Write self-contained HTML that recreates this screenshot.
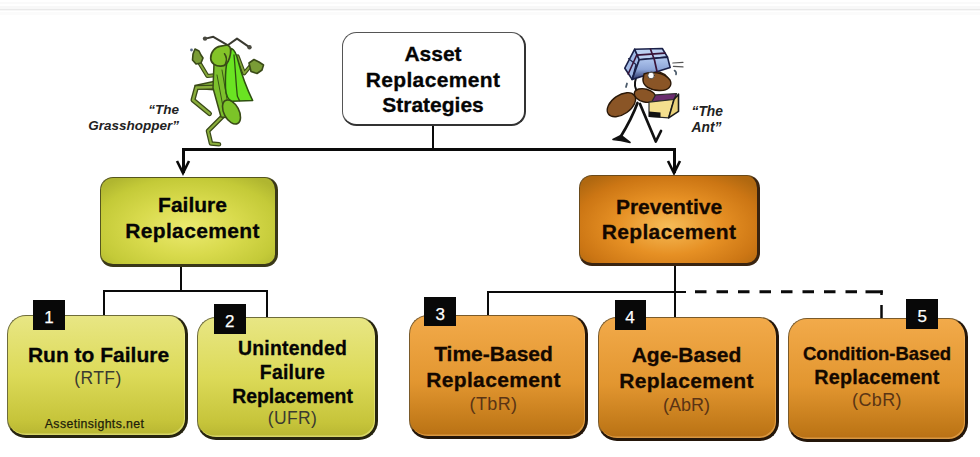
<!DOCTYPE html>
<html><head><meta charset="utf-8">
<style>
html,body{margin:0;padding:0;background:#fff;}
body{width:980px;height:457px;position:relative;overflow:hidden;font-family:"Liberation Sans",sans-serif;}
.abs{position:absolute;}
.box{position:absolute;box-sizing:border-box;}
.t{position:absolute;text-align:center;white-space:nowrap;font-weight:bold;color:#050505;-webkit-text-stroke:0.3px currentColor;}
.r{-webkit-text-stroke:0;}
.r{font-weight:normal;}
.badge{position:absolute;background:#080808;color:#fff;font-size:17px;-webkit-text-stroke:0.25px #fff;text-align:center;line-height:35px;}
.ln{position:absolute;background:#0a0a0a;}
</style></head>
<body>
<!-- top band -->
<div class="abs" style="left:0;top:2px;width:980px;height:2px;background:#fafafa"></div>
<div class="abs" style="left:0;top:6px;width:980px;height:3px;background:#f8f8f8"></div>
<div class="abs" style="left:0;top:9px;width:980px;height:1px;background:#e9e9e9"></div>
<div class="abs" style="left:0;top:10px;width:980px;height:1px;background:#f7f7f7"></div><div class="abs" style="left:0;top:12px;width:980px;height:3px;background:#fbfbfb"></div>

<!-- connectors -->
<div class="ln" style="left:432.2px;top:125px;width:2.2px;height:24px"></div>
<div class="ln" style="left:182px;top:148px;width:494px;height:2.5px"></div>
<div class="ln" style="left:182px;top:148px;width:2.5px;height:25px"></div>
<div class="ln" style="left:673px;top:148px;width:2.5px;height:25px"></div>
<svg class="abs" style="left:0;top:0" width="980" height="457">
  <polyline points="177,161 183,173 189,161" fill="none" stroke="#0a0a0a" stroke-width="2.6"/>
  <polyline points="668,161 674,173 680,161" fill="none" stroke="#0a0a0a" stroke-width="2.6"/>
</svg>
<div class="ln" style="left:180px;top:264px;width:2px;height:28px"></div>
<div class="ln" style="left:103px;top:290px;width:165px;height:2px"></div>
<div class="ln" style="left:102.5px;top:290px;width:2px;height:26px"></div>
<div class="ln" style="left:266px;top:290px;width:2px;height:28px"></div>

<div class="ln" style="left:674px;top:265px;width:2px;height:53px"></div>
<div class="ln" style="left:487px;top:291px;width:199px;height:2px"></div>
<div class="ln" style="left:487px;top:291px;width:2px;height:26px"></div>
<svg class="abs" style="left:0;top:0" width="980" height="457">
  <line x1="695" y1="291.8" x2="865" y2="291.8" stroke="#0a0a0a" stroke-width="3" stroke-dasharray="11.5 10"/>
  <line x1="865.5" y1="291.8" x2="882.8" y2="291.8" stroke="#0a0a0a" stroke-width="3"/>
  <line x1="881.5" y1="290.5" x2="881.5" y2="295" stroke="#0a0a0a" stroke-width="2.5"/>
  <line x1="881.5" y1="305" x2="881.5" y2="318" stroke="#0a0a0a" stroke-width="2.5"/>
</svg>

<!-- top box -->
<div class="box" style="left:342px;top:32px;width:184px;height:94px;border:1.7px solid #555;border-right:2.6px solid #333;border-bottom:2.6px solid #333;border-radius:14.5px;background:#fff"></div>
<div class="t" style="left:283px;width:300px;top:41px;font-size:21px;line-height:25.5px">Asset<br><span style="letter-spacing:.35px">Replacement</span><br>Strategies</div>

<!-- failure -->
<div class="box" style="left:100px;top:176.5px;width:178px;height:90px;border:1.5px solid #55551e;border-right:3px solid #3a3818;border-bottom:3px solid #3a3818;border-radius:13px;background:radial-gradient(ellipse 66% 72% at 50% 58%,#ecea70 0%,#d8da4c 45%,#c4ca38 80%,#b0b630 100%)"></div>
<div class="t" style="left:42.5px;width:300px;top:191.5px;font-size:21px;line-height:26px">Failure<br><span style="letter-spacing:.35px">Replacement</span></div>

<!-- preventive -->
<div class="box" style="left:578.5px;top:175px;width:181px;height:91px;border:1.5px solid #6a4a1a;border-right:3px solid #3a2410;border-bottom:3px solid #3a2410;border-radius:13px;background:radial-gradient(ellipse 66% 72% at 50% 58%,#f6bc58 0%,#e69024 45%,#cc7614 80%,#b06810 100%)"></div>
<div class="t" style="left:519px;width:300px;top:193.9px;font-size:21px;line-height:25.5px;color:#140800">Preventive<br><span style="letter-spacing:.35px">Replacement</span></div>

<!-- bottom yellow boxes -->
<div class="box" style="left:7px;top:314.5px;width:181px;height:123px;border:1.5px solid #6e6c3a;border-right:3.5px solid #262410;border-bottom:3.5px solid #262410;border-radius:19px;box-shadow:inset -1px -1.5px 0 rgba(240,240,150,.55);background:linear-gradient(#e8e684,#dcda58 50%,#c6c43a 88%,#b8b632)"></div>
<div class="badge" style="left:33px;top:299.5px;width:32px;height:30px">1</div>
<div class="t" style="left:-51.5px;width:300px;top:340.5px;font-size:21px;line-height:28px">Run to Failure</div>
<div class="t r" style="left:-52px;width:300px;top:368px;font-size:17.5px;line-height:20px;letter-spacing:.4px;color:#3a3a30">(RTF)</div>
<div class="t r" style="left:-55.5px;width:300px;top:415px;font-size:12.3px;line-height:18px;color:#1e1e0a;letter-spacing:.38px;-webkit-text-stroke:.25px #1e1e0a">Assetinsights.net</div>

<div class="box" style="left:196.5px;top:316.5px;width:181.5px;height:123.5px;border:1.5px solid #6e6c3a;border-right:3.5px solid #262410;border-bottom:3.5px solid #262410;border-radius:19px;box-shadow:inset -1px -1.5px 0 rgba(240,240,150,.55);background:linear-gradient(#e8e684,#dcda58 50%,#c6c43a 88%,#b8b632)"></div>
<div class="badge" style="left:213.7px;top:303.7px;width:32px;height:30px">2</div>
<div class="t" style="left:142.5px;width:300px;top:336px;font-size:19.4px;line-height:24.5px;letter-spacing:.25px">Unintended</div>
<div class="t" style="left:142.5px;width:300px;top:359.5px;font-size:19.4px;line-height:24.5px;letter-spacing:.25px">Failure</div>
<div class="t" style="left:142.5px;width:300px;top:384px;font-size:19.4px;line-height:24.5px">Replacement</div>
<div class="t r" style="left:142.5px;width:300px;top:407.8px;font-size:17.5px;line-height:20px;letter-spacing:.4px;color:#3a3a30">(UFR)</div>

<!-- bottom orange boxes -->
<div class="box" style="left:408.8px;top:314.5px;width:179.5px;height:124.5px;border:1.5px solid #7a5a2a;border-right:3.5px solid #24160a;border-bottom:3.5px solid #24160a;border-radius:19px;box-shadow:inset -1px -1.5px 0 rgba(250,190,110,.5);background:linear-gradient(#f2aa4a,#e29630 55%,#c07818 92%,#b87016)"></div>
<div class="badge" style="left:424.3px;top:296.7px;width:32px;height:29.8px">3</div>
<div class="t" style="left:343.5px;width:300px;top:341px;font-size:21px;line-height:26px;color:#140800">Time-Based<br><span style="letter-spacing:.35px">Replacement</span></div>
<div class="t r" style="left:343.5px;width:300px;top:394px;font-size:18px;line-height:20px;letter-spacing:.4px;color:#5a3414">(TbR)</div>

<div class="box" style="left:598px;top:317px;width:180.5px;height:124px;border:1.5px solid #7a5a2a;border-right:3.5px solid #24160a;border-bottom:3.5px solid #24160a;border-radius:19px;box-shadow:inset -1px -1.5px 0 rgba(250,190,110,.5);background:linear-gradient(#f2aa4a,#e29630 55%,#c07818 92%,#b87016)"></div>
<div class="badge" style="left:614.5px;top:299.5px;width:31px;height:30px">4</div>
<div class="t" style="left:536.5px;width:300px;top:342px;font-size:21px;line-height:26px;color:#140800">Age-Based<br><span style="letter-spacing:.35px">Replacement</span></div>
<div class="t r" style="left:536.5px;width:300px;top:395px;font-size:18px;line-height:20px;color:#5a3414">(AbR)</div>

<div class="box" style="left:787.5px;top:318px;width:180.5px;height:124px;border:1.5px solid #7a5a2a;border-right:3.5px solid #24160a;border-bottom:3.5px solid #24160a;border-radius:19px;box-shadow:inset -1px -1.5px 0 rgba(250,190,110,.5);background:linear-gradient(#f2aa4a,#e29630 55%,#c07818 92%,#b87016)"></div>
<div class="badge" style="left:906.3px;top:299px;width:32px;height:30.3px">5</div>
<div class="t" style="left:727px;width:300px;top:342px;font-size:18.5px;line-height:23.5px;color:#140800">Condition-Based</div>
<div class="t" style="left:727px;width:300px;top:365.5px;font-size:19.8px;line-height:23.5px;color:#140800;letter-spacing:.2px">Replacement</div>
<div class="t r" style="left:727px;width:300px;top:390px;font-size:18px;line-height:20px;letter-spacing:.4px;color:#5a3414">(CbR)</div>


<!-- grasshopper -->
<svg class="abs" style="left:0;top:0" width="980" height="457">
<g stroke-linecap="round" stroke-linejoin="round">
  <!-- antennae -->
  <polyline points="227.1,44.8 213.3,36.8 205.5,38.6" fill="none" stroke="#3a3a30" stroke-width="2"/>
  <circle cx="205" cy="38.6" r="2.2" fill="#4a4a40"/>
  <polyline points="228.4,44.8 237,38.6 249.3,47.1" fill="none" stroke="#3a3a30" stroke-width="2"/>
  <circle cx="249.5" cy="47.3" r="2.2" fill="#4a4a40"/>
  <!-- left arm -->
  <polyline points="220.5,74.7 207.4,76 199.5,62.9" fill="none" stroke="#3a4a18" stroke-width="4.2"/>
  <polyline points="220.5,74.7 207.4,76 199.5,62.9" fill="none" stroke="#86a83a" stroke-width="1.9"/>
  <path d="M193,54 L195,49 L199,51 L201,55 L203,58 L201,63 L196,64 L192.5,60 Z" fill="#7a9c36" stroke="#3a4a18" stroke-width="1.6"/>
  <circle cx="191.5" cy="50" r="1.4" fill="#5a6a8a"/>
  <!-- right arm -->
  <polyline points="237.6,56.3 244.2,73.4 250.8,65.5" fill="none" stroke="#3a4a18" stroke-width="4"/>
  <polyline points="237.6,56.3 244.2,73.4 250.8,65.5" fill="none" stroke="#86a83a" stroke-width="1.8"/>
  <path d="M249,63 L254,59.5 L259,62 L263.5,65 L262,70 L257,73.5 L251,71.5 Z" fill="#7a9c36" stroke="#3a4a18" stroke-width="1.6"/>
  <!-- left leg -->
  <path d="M216,81 L218,90 L196,88.5 L195,85.5 Z" fill="#86b83a" stroke="#3a4a18" stroke-width="1.5"/>
  <polyline points="217,87 196.4,87.5 193,100 209.5,113.7" fill="none" stroke="#3a4a18" stroke-width="5"/>
  <polyline points="217,87 196.4,87.5 193,100 209.5,113.7" fill="none" stroke="#8aae3c" stroke-width="2.4"/>
  <!-- right shin -->
  <polyline points="223,116 208,131 211,143.5 219,144.3" fill="none" stroke="#3a4a18" stroke-width="4.6"/>
  <polyline points="223,116 208,131 211,143.5 219,144.3" fill="none" stroke="#8aae3c" stroke-width="2.1"/>
  <!-- body -->
  <path d="M214,64 L229,58 L234,92 L231,118 L221,117 L213,88 Z" fill="#7cc02c" stroke="#3a4a18" stroke-width="1.5"/>
  <path d="M217,75 L224,112 M222,70 L228,105" fill="none" stroke="#3a5a14" stroke-width="1"/>
  <!-- right thigh -->
  <ellipse cx="231.5" cy="112" rx="7.5" ry="13" transform="rotate(-28 231.5 112)" fill="#7cc428" stroke="#3a4a18" stroke-width="1.6"/>
  <!-- wing -->
  <path d="M231.5,48.5 C227,56 225,72 225.5,88 C226,96 228,100 232,101.3 L252.7,100.6 C247,89 241,72 238.4,62 C236.5,54 234.5,49.5 231.5,48.5 Z" fill="#6ae422" stroke="#2e5010" stroke-width="1.5"/>
  <path d="M234,55 C235.5,70 236,85 237.4,96.3 L239.5,100.6" fill="none" stroke="#2e5010" stroke-width="1.3"/>
  <!-- head -->
  <path d="M228.4,45.5 C231.5,47.5 231,53 229.5,58 C228,63 226,66 221,66.2 C216,66.5 211,63.5 210.7,58.5 C210.5,52 215,47 220.5,46.2 C223.5,45.5 226.5,44.7 228.4,45.5 Z" fill="#84c428" stroke="#3a4a18" stroke-width="1.7"/>
  <path d="M224.5,53.7 C226.5,56.5 227,60 225.5,63.5" fill="none" stroke="#3a4a18" stroke-width="1.5"/>
</g>
</svg>
<!-- ant -->
<svg class="abs" style="left:0;top:0" width="980" height="457">
<g stroke-linecap="round" stroke-linejoin="round">
  <!-- legs -->
  <path d="M637.5,103 C632,118 626,128 620.5,137" fill="none" stroke="#111" stroke-width="2.7"/>
  <path d="M613,139.5 L621,135.5 L630,142.5 L621,140.5 Z" fill="#111" stroke="#111" stroke-width="1.6"/>
  <path d="M640,104 C646,118 651,130 655.8,141.5 L661,131" fill="none" stroke="#111" stroke-width="2.7"/>
  <!-- abdomen -->
  <ellipse cx="621.4" cy="104.7" rx="16" ry="9.5" transform="rotate(-35 621.4 104.7)" fill="#8a5526" stroke="#2a1808" stroke-width="1.4"/>
  <!-- neck -->
  <path d="M636,78 C634,84 635,89 638,92" fill="none" stroke="#111" stroke-width="2"/>
  <!-- thorax -->
  <ellipse cx="645" cy="95.5" rx="11" ry="6.5" transform="rotate(15 645 95.5)" fill="#8a5526" stroke="#2a1808" stroke-width="1.4"/>
  <!-- carried box -->
  <path d="M651.6,102.1 L655.6,94.9 L676.6,93.5 L674,99.5 Z" fill="#6a2c6e" stroke="#2a2a2a" stroke-width="1.2"/>
  <path d="M649,102.1 L674,99.5 L668.7,117.8 L649,116.5 Z" fill="#f4df8e" stroke="#2a2a2a" stroke-width="1.2"/>
  <path d="M674,99.5 L678.5,94.2 L678.5,111.3 L668.7,117.8 Z" fill="#ead27a" stroke="#1a1a1a" stroke-width="1.6"/>
  <path d="M649,111.5 L660.5,112.5 L660.5,117.5 L649,117 Z" fill="#111"/>
  <!-- head -->
  <ellipse cx="656.4" cy="80.7" rx="13.5" ry="9.2" transform="rotate(18 656.4 80.7)" fill="#8a5526" stroke="#2a1808" stroke-width="1.4"/>
  <circle cx="651.1" cy="74.8" r="3.4" fill="#fff" stroke="#333" stroke-width="0.8"/>
  <!-- head box -->
  <defs><linearGradient id="fg" x1="0" y1="0" x2="0" y2="1"><stop offset="0" stop-color="#b4caf0"/><stop offset="0.55" stop-color="#8ea6d8"/><stop offset="1" stop-color="#2a3468"/></linearGradient></defs>
  <path d="M634.7,49.2 L639.3,59.7 L632.1,79.4 L624.8,68.2 Z" fill="#a2bae6" stroke="#1a2048" stroke-width="1.6"/>
  <path d="M634.7,49.2 L662.3,48.5 L667.5,57.1 L639.3,59.7 Z" fill="#bcd0f2" stroke="#1a2048" stroke-width="1.6"/>
  <path d="M639.3,59.7 L667.5,57.1 L670.2,67.6 L632.1,79.4 Z" fill="url(#fg)" stroke="#1a2048" stroke-width="1.6"/>
  <path d="M628.5,58.6 L636,64.5 L632.1,79.4" fill="none" stroke="#1a2048" stroke-width="1.2"/>
  <path d="M650.5,49.2 L654.4,59.7 L657,71.5" fill="none" stroke="#3a1438" stroke-width="1.7"/>
  <path d="M636.7,55.1 L664.9,53.1" fill="none" stroke="#3a1438" stroke-width="1.6"/>
  <path d="M636.7,55.1 L628.1,74.1" fill="none" stroke="#3a1438" stroke-width="1.5"/>
  <!-- re-draw head lower part over box bottom -->
  <path d="M644,74 C650,71 664,72 670,80 C673,86 668,91 659,90.5 C650,90 643,86 643,80 Z" fill="#8a5526" stroke="#2a1808" stroke-width="1.4"/>
  <circle cx="651.1" cy="75.5" r="3.3" fill="#fff" stroke="#333" stroke-width="0.8"/>
  <!-- sweat & motion lines -->
  <path d="M627,83.5 L626,87" stroke="#4a5a6a" stroke-width="1.8"/>
  <path d="M674.5,70.5 C676,71.5 676.5,73 676,74.5" fill="none" stroke="#4a5a6a" stroke-width="1.6"/>
  <path d="M672.8,63 L683,62.3 M673.4,66.3 L683,66.9" stroke="#555" stroke-width="1.2"/>
</g>
</svg>
<!-- quotes -->
<div class="abs" style="left:40px;width:139px;top:102.2px;font-size:13.5px;line-height:15.5px;font-weight:bold;font-style:italic;text-align:right;color:#222">“The<br>Grasshopper”</div>
<div class="abs" style="left:691.5px;width:80px;top:103.5px;font-size:13.8px;line-height:16px;font-weight:bold;font-style:italic;text-align:left;color:#222">“The<br>Ant”</div>

</body></html>
